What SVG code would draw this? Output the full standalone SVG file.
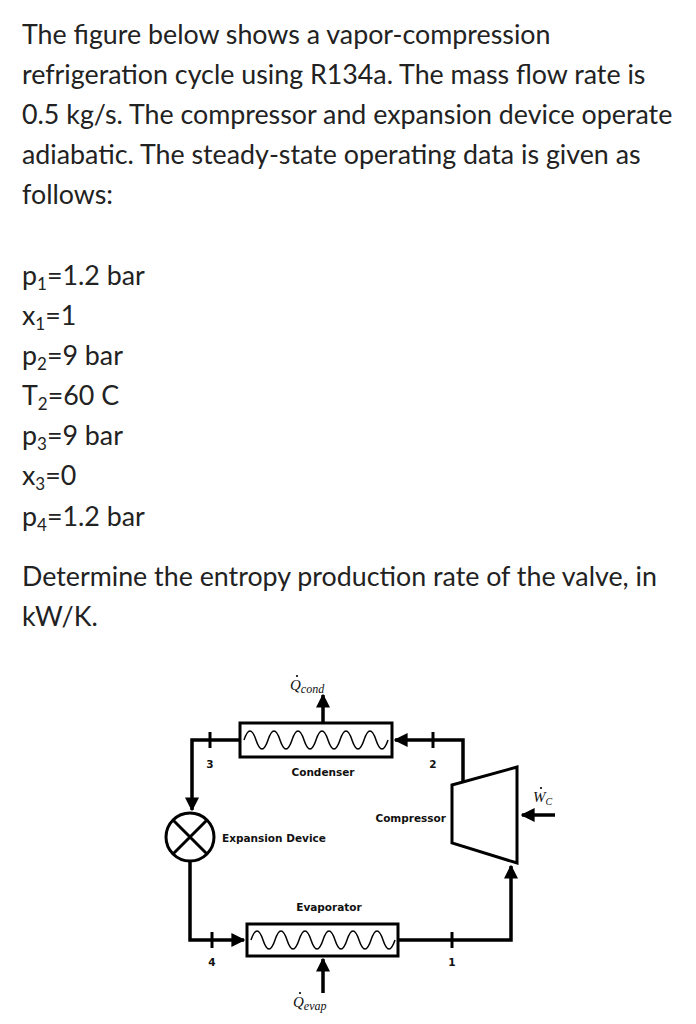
<svg xmlns="http://www.w3.org/2000/svg" width="696" height="1024" viewBox="0 0 696 1024">
<style>
.t{font-family:Lato,"Open Sans",sans-serif;font-size:26.8px;fill:#222}
.s{font-size:17px}
.l{font-family:"DejaVu Sans",sans-serif;font-weight:bold;font-size:10.5px;fill:#111}
.m{font-family:"Liberation Serif",serif;font-style:italic;font-size:15px;fill:#111}
.w{fill:none;stroke:#000;stroke-width:3.5}
.b{fill:#fff;stroke:#000;stroke-width:3}
.v{fill:none;stroke:#000;stroke-width:1.5}
</style>
<defs><marker id="a" viewBox="0 0 10 10" refX="9" refY="5" markerWidth="4" markerHeight="4" orient="auto"><path d="M0,0L10,5L0,10z"/></marker></defs>
<rect width="696" height="1024" fill="#fff"/>
<g class="t">
<text x="22" y="44">The figure below shows a vapor-compression</text>
<text x="22" y="84">refrigeration cycle using R134a. The mass flow rate is</text>
<text x="22" y="124">0.5 kg/s. The compressor and expansion device operate</text>
<text x="22" y="164">adiabatic. The steady-state operating data is given as</text>
<text x="22" y="204">follows:</text>
<text x="22" y="285">p<tspan class="s" dy="5">1</tspan><tspan dy="-5">=1.2 bar</tspan></text>
<text x="22" y="325">x<tspan class="s" dy="5">1</tspan><tspan dy="-5">=1</tspan></text>
<text x="22" y="365">p<tspan class="s" dy="5">2</tspan><tspan dy="-5">=9 bar</tspan></text>
<text x="22" y="405">T<tspan class="s" dy="5">2</tspan><tspan dy="-5">=60 C</tspan></text>
<text x="22" y="445">p<tspan class="s" dy="5">3</tspan><tspan dy="-5">=9 bar</tspan></text>
<text x="22" y="485">x<tspan class="s" dy="5">3</tspan><tspan dy="-5">=0</tspan></text>
<text x="22" y="526">p<tspan class="s" dy="5">4</tspan><tspan dy="-5">=1.2 bar</tspan></text>
<text x="22" y="586">Determine the entropy production rate of the valve, in</text>
<text x="22" y="626">kW/K.</text>
</g>
<g id="connectors" class="w">
<path d="M240,740H192V810" marker-end="url(#a)"/>
<path d="M190,862V940H244" marker-end="url(#a)"/>
<path d="M398,940H511V866" marker-end="url(#a)"/>
<path d="M463,782V740H395" marker-end="url(#a)"/>
<path d="M555,815H522" marker-end="url(#a)"/>
<path d="M323,723V695" marker-end="url(#a)"/>
<path d="M323,993V959" marker-end="url(#a)"/>
<path d="M210,732V748M433,732V748M212,932V948M452,932V948" stroke-width="3"/>
</g>
<g id="condenser">
<rect class="b" x="240" y="723" width="152" height="34"/>
<path class="v" d="M244,740c4,-12 8,-12 12,0s8,12 12,0c4,-12 8,-12 12,0s8,12 12,0c4,-12 8,-12 12,0s8,12 12,0c4,-12 8,-12 12,0s8,12 12,0c4,-12 8,-12 12,0s8,12 12,0c4,-12 8,-12 12,0s8,12 12,0"/>
<text class="l" x="323" y="776" text-anchor="middle">Condenser</text>
</g>
<g id="evaporator">
<rect class="b" x="247" y="924" width="151" height="32"/>
<path class="v" d="M251,940c4,-12 8,-12 12,0s8,12 12,0c4,-12 8,-12 12,0s8,12 12,0c4,-12 8,-12 12,0s8,12 12,0c4,-12 8,-12 12,0s8,12 12,0c4,-12 8,-12 12,0s8,12 12,0c4,-12 8,-12 12,0s8,12 12,0"/>
<text class="l" x="329" y="911" text-anchor="middle">Evaporator</text>
</g>
<g id="valve">
<circle class="b" cx="190" cy="837" r="24"/>
<path d="M173,820L207,854M207,820L173,854" stroke="#000" stroke-width="3"/>
<text class="l" x="222" y="842">Expansion Device</text>
</g>
<g id="compressor">
<path class="b" d="M452,785L517,767V863L452,843Z"/>
<text class="l" x="446" y="822" text-anchor="end">Compressor</text>
</g>
<g id="labels">
<text class="l" x="210" y="768" text-anchor="middle">3</text>
<text class="l" x="433" y="768" text-anchor="middle">2</text>
<text class="l" x="212" y="966" text-anchor="middle">4</text>
<text class="l" x="452" y="966" text-anchor="middle">1</text>
<text class="m" x="290" y="690">Q<tspan font-size="12" dy="3">cond</tspan></text>
<circle cx="297" cy="676" r="1.1"/>
<text class="m" x="293" y="1007">Q<tspan font-size="12" dy="3">evap</tspan></text>
<circle cx="300" cy="993" r="1.1"/>
<text class="m" x="533" y="802">W<tspan font-size="10" dy="3">C</tspan></text>
<circle cx="541" cy="788" r="1.1"/>
</g>
</svg>
